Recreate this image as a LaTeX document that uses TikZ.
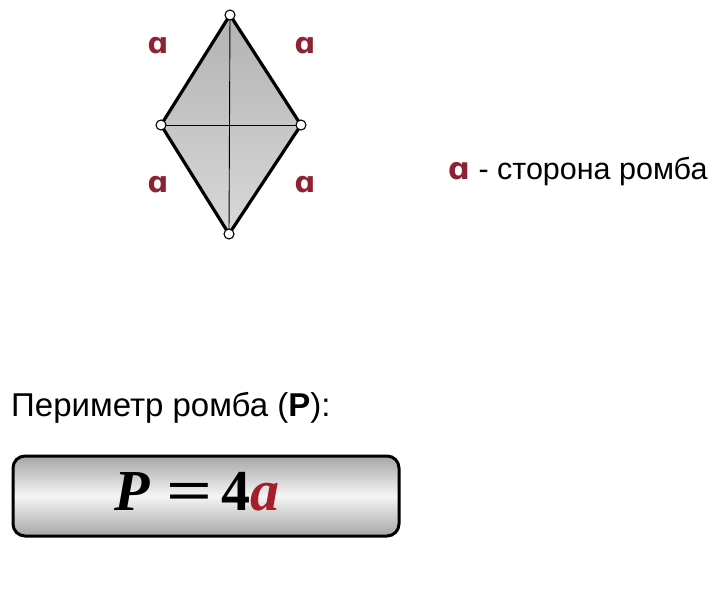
\documentclass[tikz,border=0pt]{standalone}
\usepackage{fontspec}
\setmainfont{Liberation Sans}
\newfontfamily\formulafont{Liberation Serif}
\newfontfamily\letterfont{DejaVu Sans}
\definecolor{sidered}{HTML}{8C2233}
\definecolor{formred}{HTML}{A51E2A}

\begin{document}
\begin{tikzpicture}[x=1pt, y=-1pt,
    vertex/.style={circle, draw, fill=white, line width=1.1pt, inner sep=0pt, minimum size=10pt},
    sidelabel/.style={text=sidered, font=\letterfont\bfseries\fontsize{29}{29}\selectfont},
    plaintext/.style={anchor=west, inner sep=0pt, font=\fontsize{30.5}{30.5}\selectfont},
    formbox/.style={draw, line width=3pt, rounded corners=12pt, minimum width=386pt, minimum height=80pt,
        top color=gray!70, bottom color=gray!70, middle color=gray!8}]
    \useasboundingbox (0,0) rectangle (724,600);

    % Rhombus
    \coordinate (topc) at (230,15);
    \coordinate (leftc) at (161,125);
    \coordinate (rightc) at (301,125);
    \coordinate (bottomc) at (229,234);
    \fill[top color=gray!60, bottom color=gray!30] (topc) -- (rightc) -- (bottomc) -- (leftc) -- cycle;
    \draw[line width=0.9pt] (topc) -- (bottomc);
    \draw[line width=0.9pt] (leftc) -- (rightc);
    \draw[line width=3.2pt, line join=round] (topc) -- (rightc) -- (bottomc) -- (leftc) -- cycle;
    \node[vertex] (top) at (topc) {};
    \node[vertex] (left) at (leftc) {};
    \node[vertex] (right) at (rightc) {};
    \node[vertex] (bottom) at (bottomc) {};

    % Sides
    \node[sidelabel] (sideA) at (158,46) {ɑ};
    \node[sidelabel] (sideB) at (305,46) {ɑ};
    \node[sidelabel] (sideC) at (158,185) {ɑ};
    \node[sidelabel] (sideD) at (305,185) {ɑ};

    % Legend
    \node[plaintext] (legend) at (448,171) {{\color{sidered}\letterfont\bfseries ɑ} - сторона ромба};

    % Perimeter
    \node[plaintext, font=\fontsize{33}{33}\selectfont] (title) at (11,408) {Периметр ромба (\textbf{P}):};
    \node[formbox] (box) at (206,496) {};
    \node (formula) at (197,492)
        {\formulafont\fontsize{58}{58}\selectfont\textbf{\textit{P}}\hspace{16pt}\scalebox{1.4}[1]{\textbf{=}}\hspace{8pt}\textbf{4}\textcolor{formred}{\textbf{\textit{a}}}};
\end{tikzpicture}
\end{document}
